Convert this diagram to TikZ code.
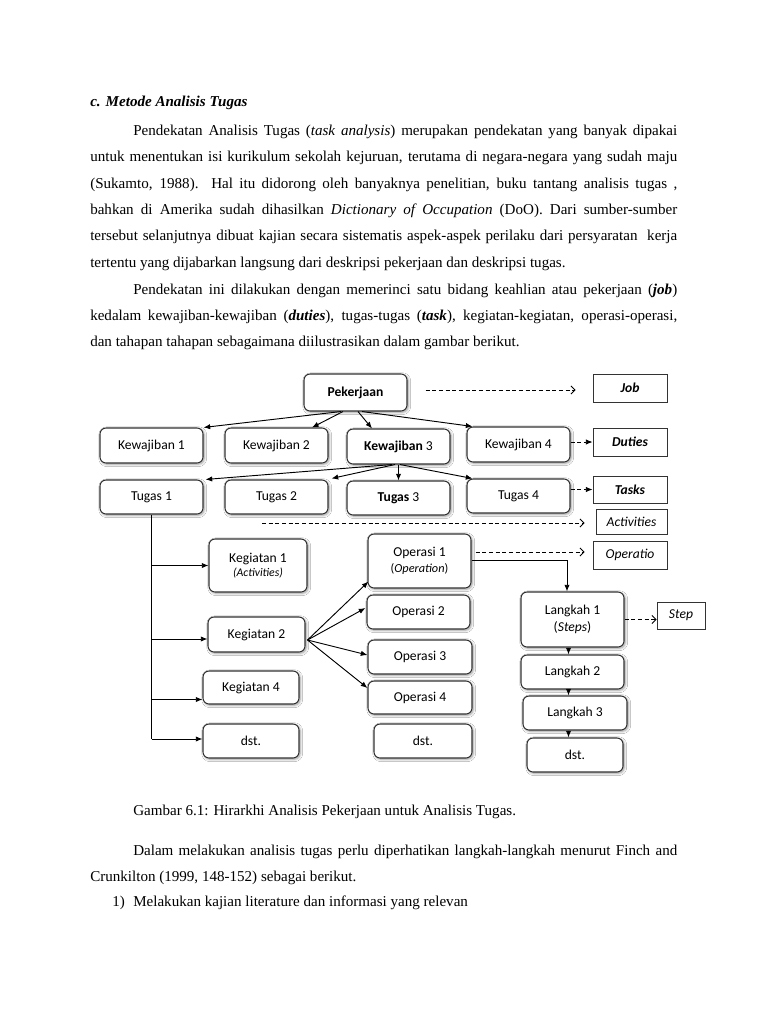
\documentclass[tikz,border=0pt]{standalone}
\usepackage{fontspec}
\setmainfont{Liberation Serif}
\newfontfamily\diagfont{Carlito}
\usetikzlibrary{arrows.meta,calc,shadows.blur}

\begin{document}
\begin{tikzpicture}[x=0.75pt,y=-0.75pt,
  box/.style={draw=black!80, line width=0.8pt, rounded corners=4.5pt, fill=white,
    blur shadow={shadow blur steps=6, shadow xshift=0.9pt, shadow yshift=-0.9pt, shadow opacity=40, shadow blur extra rounding=1.5pt},
    font=\diagfont\fontsize{10.2}{12}\selectfont, align=center, inner sep=1pt},
  lbl/.style={draw=black!80, line width=0.7pt, fill=white, font=\diagfont\fontsize{10.2}{12}\selectfont\itshape, inner sep=1pt},
  sz/.style 2 args={minimum width=#1*0.75pt, minimum height=#2*0.75pt},
  arr/.style={line width=0.7pt, -{Latex[length=5pt,width=4pt]}},
  darr/.style={line width=0.6pt, dash pattern=on 3pt off 2pt, -{Straight Barb[length=3pt,width=6pt]}},
  dfarr/.style={line width=0.6pt, dash pattern=on 3pt off 2pt, -{Latex[length=5pt,width=4pt]}},
  txt/.style={anchor=base west, inner sep=0pt, font=\fontsize{11.3}{13}\selectfont},
]
\fill[white] (0,0) rectangle (768,1024);
\useasboundingbox (0,0) rectangle (768,1024);

% ---------- text above ----------
\node[txt] (h) at (90,107) {\textbf{\textit{c. Metode Analisis Tugas}}};
\node[txt] (l1) at (133,135) {\makebox[408pt][s]{Pendekatan Analisis Tugas (\textit{task analysis}) merupakan pendekatan yang banyak dipakai}};
\node[txt] (l2) at (90,161) {\makebox[440.25pt][s]{untuk menentukan isi kurikulum sekolah kejuruan, terutama di negara-negara yang sudah maju}};
\node[txt] (l3) at (90,188) {\makebox[440.25pt][s]{(Sukamto, 1988).\ \ Hal itu didorong oleh banyaknya penelitian, buku tantang analisis tugas ,}};
\node[txt] (l4) at (90,214) {\makebox[440.25pt][s]{bahkan di Amerika sudah dihasilkan \textit{Dictionary of Occupation} (DoO). Dari sumber-sumber}};
\node[txt] (l5) at (90,240) {\makebox[440.25pt][s]{tersebut selanjutnya dibuat kajian secara sistematis aspek-aspek perilaku dari persyaratan\ \ kerja}};
\node[txt] (l6) at (90,267) {tertentu yang dijabarkan langsung dari deskripsi pekerjaan dan deskripsi tugas.};
\node[txt] (l7) at (133,294) {\makebox[408pt][s]{Pendekatan ini dilakukan dengan memerinci satu bidang keahlian atau pekerjaan (\textbf{\textit{job}})}};
\node[txt] (l8) at (90,320) {\makebox[440.25pt][s]{kedalam kewajiban-kewajiban (\textbf{\textit{duties}}), tugas-tugas (\textbf{\textit{task}}), kegiatan-kegiatan, operasi-operasi,}};
\node[txt] (l9) at (90,346) {dan tahapan tahapan sebagaimana diilustrasikan dalam gambar berikut.};

% ---------- text below ----------
\node[txt] (cap) at (133,815) {Gambar 6.1: Hirarkhi Analisis Pekerjaan untuk Analisis Tugas.};
\node[txt] (b1) at (133,855) {\makebox[408pt][s]{Dalam melakukan analisis tugas perlu diperhatikan langkah-langkah menurut Finch and}};
\node[txt] (b2) at (90,881) {Crunkilton (1999, 148-152) sebagai berikut.};
\node[txt] (b3n) at (112,906) {1)};
\node[txt] (b3) at (133,906) {Melakukan kajian literature dan informasi yang relevan};

% ---------- diagram boxes ----------
\node[box, sz={103}{37}] (pek) at (355.5,392.5) {\textbf{Pekerjaan}};

\node[box, sz={103}{35}] (kew1) at (151.5,445.5) {Kewajiban 1};
\node[box, sz={103}{35}] (kew2) at (276.5,445.5) {Kewajiban 2};
\node[box, sz={103}{35}] (kew3) at (398.5,446.5) {\textbf{Kewajiban} 3};
\node[box, sz={103}{35}] (kew4) at (518.5,444.5) {Kewajiban 4};

\node[box, sz={103}{34}] (tug1) at (151.5,497) {Tugas 1};
\node[box, sz={103}{34}] (tug2) at (276.5,497) {Tugas 2};
\node[box, sz={103}{34}] (tug3) at (398.5,498) {\textbf{Tugas} 3};
\node[box, sz={103}{34}] (tug4) at (518.5,496) {Tugas 4};

\node[lbl, sz={74}{28}] (job) at (630,388) {\bfseries Job};
\node[lbl, sz={74}{28}] (duties) at (630,442) {\bfseries Duties};
\node[lbl, sz={74}{27}] (tasks) at (630,489.5) {\bfseries Tasks};
\node[lbl, sz={71}{25}] (activ) at (631.5,521.5) {Activities};
\node[lbl, sz={74}{28}] (operatio) at (630,555) {Operatio};
\node[lbl, sz={48}{27}] (step) at (681,615.5) {Step};

\node[box, sz={98}{53}] (keg1) at (258,565.5) {Kegiatan 1\\[-1pt]{\fontsize{8.8}{11}\selectfont\itshape (Activities)}};
\node[box, sz={97}{35}] (keg2) at (256.5,634.5) {Kegiatan 2};
\node[box, sz={96}{33}] (keg4) at (251,687.5) {Kegiatan 4};
\node[box, sz={96}{34}] (dst1) at (251,741) {dst.};

\node[box, sz={103}{54}] (op1) at (419.5,561) {Operasi 1\\{\fontsize{9.2}{11}\selectfont(\textit{Operation})}};
\node[box, sz={103}{34}] (op2) at (418.5,612) {Operasi 2};
\node[box, sz={104}{34}] (op3) at (420,657) {Operasi 3};
\node[box, sz={104}{33}] (op4) at (420,697.5) {Operasi 4};
\node[box, sz={98}{34}] (dst2) at (423,741) {dst.};

\node[box, sz={103}{55}] (lk1) at (572.5,619.5) {Langkah 1\\[1pt](\textit{Steps})};
\node[box, sz={103}{34}] (lk2) at (572.5,672) {Langkah 2};
\node[box, sz={104}{34}] (lk3) at (575,713) {Langkah 3};
\node[box, sz={96}{34}] (dst3) at (575,755) {dst.};

% ---------- connectors: level 1 ----------
\draw[arr] ($(pek.south)+(-14.5,0)$) -- (kew1.north east);
\draw[arr] ($(pek.south)+(-12.5,0)$) -- ($(kew2.north)+(35.5,0)$);
\draw[arr] ($(pek.south)+(2.5,0)$) -- ($(kew3.north)+(-26.5,0)$);
\draw[arr] ($(pek.south)+(6.5,0)$) -- ($(kew4.north west)+(6,0)$);

% ---------- level 2 ----------
\draw[arr] ($(kew3.south)+(-6.5,0)$) -- ($(tug1.north east)+(2,0)$);
\draw[arr] ($(kew3.south)+(-3.5,0)$) -- ($(tug2.north east)+(3,-1)$);
\draw[arr] (kew3.south) -- (tug3.north);
\draw[arr] ($(kew3.south)+(1.5,0)$) -- ($(tug4.north west)+(6,0)$);

% ---------- dashed links to labels ----------
\draw[darr] ($(pek.east)+(18,-2.5)$) -- ($(job.west)+(-17,2)$);
\draw[dfarr] (kew4.east |- duties.west) -- (duties.west);
\draw[dfarr] (tug4.east |- tasks.west) -- (tasks.west);
\coordinate (actstart) at (262,523);
\draw[darr] (actstart) -- (actstart -| {$(activ.west)+(-11,0)$});
\draw[darr] ($(op1.east)+(4,-9)$) -- ($(operatio.west)+(-8,-3)$);
\draw[darr] (lk1.east) -- (lk1.east -| step.west);

% ---------- Tugas 1 trunk ----------
\coordinate (k1in) at (keg1.west);
\coordinate (k2in) at ($(keg2.west)+(0,4.5)$);
\coordinate (k4in) at ($(keg4.west)+(0,12)$);
\coordinate (d1in) at ($(dst1.west)+(0,-2)$);
\draw[line width=0.7pt] (tug1.south) -- (tug1.south |- d1in);
\draw[arr] (tug1.south |- k1in) -- (k1in);
\draw[arr] (tug1.south |- k2in) -- (k2in);
\draw[arr] (tug1.south |- k4in) -- (k4in);
\draw[arr] (tug1.south |- d1in) -- (d1in);

% ---------- Kegiatan 2 fan ----------
\coordinate (k2out) at ($(keg2.east)+(2,5.5)$);
\draw[arr] (k2out) -- ($(op1.south west)+(1,-7)$);
\draw[arr] (k2out) -- ($(op2.west)+(-1,-4)$);
\draw[arr] (k2out) -- ($(op3.west)+(0,-2)$);
\draw[arr] (k2out) -- ($(op4.west)+(0,-9.5)$);

% ---------- Operasi 1 to Langkah ----------
\draw[arr] ($(op1.east)+(0,-1)$) -| ($(lk1.north)+(-5.5,0)$);
\draw[arr] ($(lk1.south)+(-4,0)$) -- ($(lk2.north)+(-4,0)$);
\draw[arr] ($(lk2.south)+(-4,0)$) -- ($(lk3.north)+(-6.5,0)$);
\draw[arr] ($(lk3.south)+(-6.5,0)$) -- ($(dst3.north)+(-6.5,0)$);
\end{tikzpicture}
\end{document}
